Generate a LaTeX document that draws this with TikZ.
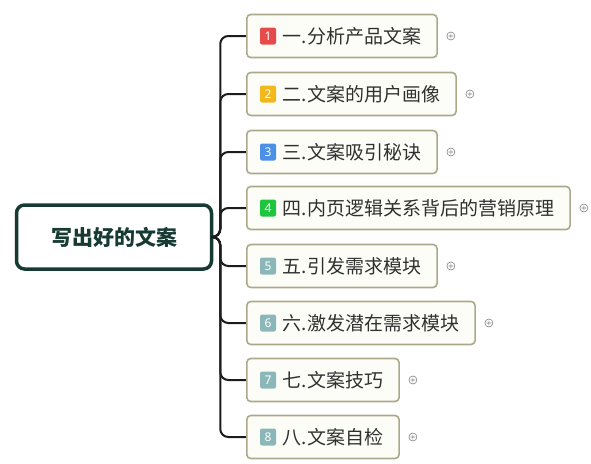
\documentclass[tikz,border=0pt]{standalone}
\usepackage{fontspec}
\newfontfamily\cjk{Noto Sans CJK SC}
\newfontfamily\digits{Noto Sans}
\setmainfont{Noto Sans CJK SC}
\usetikzlibrary{positioning}
\definecolor{rootline}{HTML}{173A33}
\definecolor{topicline}{HTML}{ABA98C}
\definecolor{topicfill}{HTML}{FDFDF8}
\definecolor{branchline}{HTML}{1C1C1C}
\definecolor{txt}{HTML}{303030}
\definecolor{bred}{HTML}{E54B4B}
\definecolor{byellow}{HTML}{F2B81C}
\definecolor{bblue}{HTML}{4B8FE6}
\definecolor{bgreen}{HTML}{1FC43F}
\definecolor{bgrey}{HTML}{8CB7B8}
\tikzset{
	rootbox/.style={draw=rootline, line width=3.5pt, rounded corners=8pt, fill=white,
		minimum width=195pt, minimum height=64pt, inner sep=0pt,
		font=\cjk\bfseries\fontsize{21}{21}\selectfont, text=rootline},
	topic/.style={draw=topicline, line width=1.6pt, rounded corners=4pt, fill=topicfill,
		minimum height=43pt, inner xsep=16pt, inner ysep=0pt, anchor=west,
		font=\cjk\fontsize{19}{19}\selectfont, text=txt},
	badge/.style={rounded corners=2pt, minimum width=16pt, minimum height=17pt, inner sep=0pt,
		text=white, font=\digits\bfseries\fontsize{12}{12}\selectfont},
	branch/.style={draw=branchline, line width=2pt, rounded corners=8pt},
	plus/.style={draw=gray, line width=0.6pt}
}
\begin{document}
\begin{tikzpicture}[x=1pt, y=-1pt, line join=round, line cap=round]
	\useasboundingbox (0,0) rectangle (591,463);
	\node[rootbox] (root) at (114,237) {写出好的文案};
	\foreach \n/\y/\t/\c in {1/36/一.分析产品文案/bred, 2/94/二.文案的用户画像/byellow,
		3/152/三.文案吸引秘诀/bblue, 4/208/四.内页逻辑关系背后的营销原理/bgreen,
		5/266/五.引发需求模块/bgrey, 6/323/六.激发潜在需求模块/bgrey,
		7/380/七.文案技巧/bgrey, 8/437/八.文案自检/bgrey}{
		\draw[branch] (root.east) -- ++(7,0) |- (246,\y) coordinate (e\n);
		\node[topic] (t\n) at (e\n) {\hspace*{20pt}\t};
		\node[badge, fill=\c] (b\n) at ([xshift=22pt]t\n.west) {\n};
		\path ([xshift=13pt]t\n.east) coordinate (p\n);
		\draw[plus] (p\n) circle[radius=4pt] ([xshift=-2.2pt]p\n) -- ([xshift=2.2pt]p\n)
			([yshift=-2.2pt]p\n) -- ([yshift=2.2pt]p\n);
	}
\end{tikzpicture}
\end{document}
